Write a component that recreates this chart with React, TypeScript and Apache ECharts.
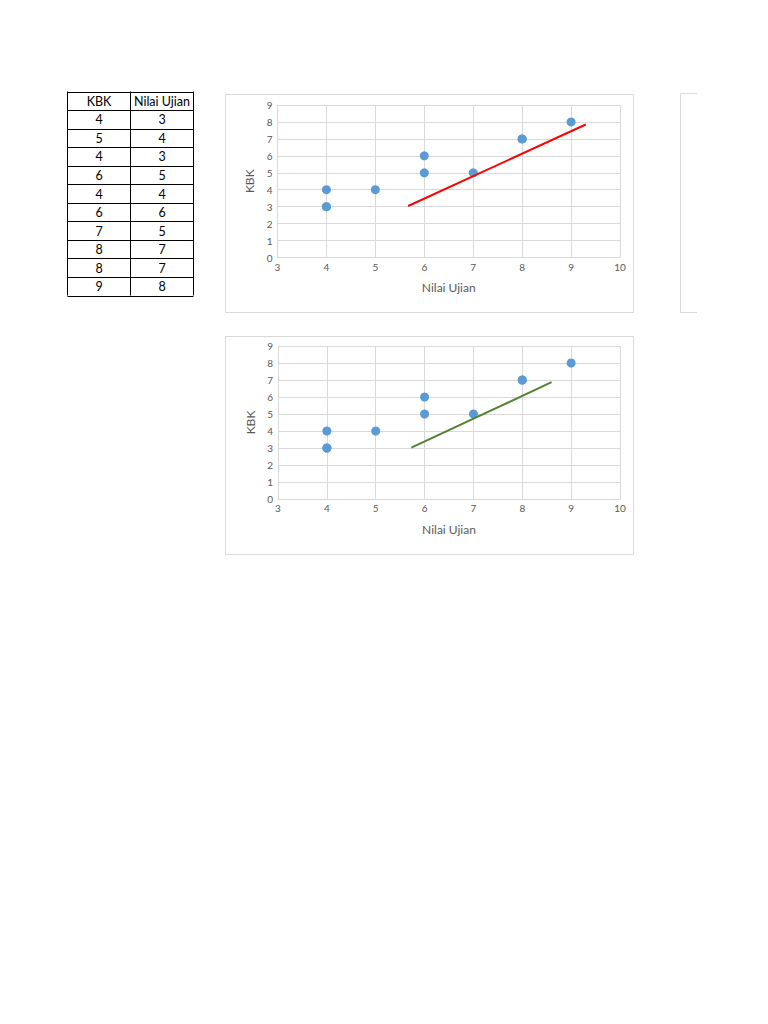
import React, { useEffect, useRef } from "react";
import * as echarts from "echarts";

// data
const tableHeaders = ["KBK", "Nilai Ujian"];
const kbk = [4, 5, 4, 6, 4, 6, 7, 8, 8, 9];
const nilaiUjian = [3, 4, 3, 5, 4, 6, 5, 7, 7, 8];

// hand-drawn trend lines (start, end)
const redLine = [
  [5.67, 3.04],
  [9.3, 7.85],
];
const greenLine = [
  [5.73, 3.02],
  [8.6, 6.87],
];

const xRange = { min: 3, max: 10, interval: 1 };
const yRange = { min: 0, max: 9, interval: 1 };

const FONT = "Lato, 'Open Sans', sans-serif";
const GRID_COLOR = "#D9D9D9";
const LABEL_COLOR = "#595959";
const POINT_COLOR = "#5B9BD5";

function makeAxes(gridIndex: number) {
  const common = {
    gridIndex,
    type: "value" as const,
    axisTick: { show: false },
    axisLine: { show: true, lineStyle: { color: GRID_COLOR, width: 1 } },
    splitLine: { show: true, lineStyle: { color: GRID_COLOR, width: 1 } },
    axisLabel: { color: LABEL_COLOR, fontSize: 10, fontFamily: FONT },
    nameTextStyle: { color: LABEL_COLOR, fontSize: 12, fontFamily: FONT },
    nameLocation: "middle" as const,
  };
  return {
    x: {
      ...common,
      ...xRange,
      name: "Nilai Ujian",
      nameGap: 24,
      axisLabel: { ...common.axisLabel, margin: 4 },
    },
    y: {
      ...common,
      ...yRange,
      name: "KBK",
      nameGap: 22,
      axisLabel: { ...common.axisLabel, margin: 5 },
    },
  };
}

function tableGraphics() {
  const x0 = 67.5;
  const xm = 130.5;
  const x1 = 193.5;
  const y0 = 91.5;
  const rowH = 18.55;
  const rows = [tableHeaders, ...kbk.map((k, i) => [String(k), String(nilaiUjian[i])])];
  const els: any[] = [];
  const yEnd = y0 + rowH * rows.length;
  const line = (a: number, b: number, c: number, d: number) => ({
    type: "line",
    shape: { x1: a, y1: b, x2: c, y2: d },
    style: { stroke: "#000", lineWidth: 1 },
  });
  for (let r = 0; r <= rows.length; r++) {
    const y = Math.round(y0 + rowH * r) + 0.5;
    els.push(line(x0, y, x1, y));
  }
  els.push(line(x0, y0, x0, yEnd));
  els.push(line(xm, y0, xm, yEnd));
  els.push(line(x1, y0, x1, yEnd));
  rows.forEach((row, r) => {
    const cy = y0 + rowH * r + rowH / 2 + 0.5;
    [(x0 + xm) / 2, (xm + x1) / 2].forEach((cx, c) => {
      els.push({
        type: "text",
        x: cx,
        y: cy,
        style: {
          text: row[c],
          fill: "#000",
          font: `12.5px ${FONT}`,
          align: "center",
          verticalAlign: "middle",
        },
      });
    });
  });
  return els;
}

export default function App() {
  const chartRef = useRef<HTMLDivElement>(null);

  useEffect(() => {
    if (!chartRef.current) return;
    const chart = echarts.init(chartRef.current, undefined, { renderer: "svg" });
    const a1 = makeAxes(0);
    const a2 = makeAxes(1);
    const points = kbk.map((k, i) => [k, nilaiUjian[i]]);

    chart.setOption({
      animation: false,
      backgroundColor: "#fff",
      grid: [
        { left: 277.5, top: 105, width: 342.5, height: 152.5 },
        { left: 278, top: 346, width: 342, height: 153 },
      ],
      xAxis: [a1.x, a2.x],
      yAxis: [a1.y, a2.y],
      series: [
        {
          type: "scatter",
          xAxisIndex: 0,
          yAxisIndex: 0,
          data: points,
          symbolSize: 9,
          itemStyle: { color: POINT_COLOR, opacity: 1 },
          z: 3,
        },
        {
          type: "line",
          xAxisIndex: 0,
          yAxisIndex: 0,
          data: redLine,
          showSymbol: false,
          lineStyle: { color: "#FF0000", width: 2 },
          z: 4,
        },
        {
          type: "scatter",
          xAxisIndex: 1,
          yAxisIndex: 1,
          data: points,
          symbolSize: 9,
          itemStyle: { color: POINT_COLOR, opacity: 1 },
          z: 3,
        },
        {
          type: "line",
          xAxisIndex: 1,
          yAxisIndex: 1,
          data: greenLine,
          showSymbol: false,
          lineStyle: { color: "#548235", width: 2 },
          z: 4,
        },
      ],
      graphic: [
        {
          type: "rect",
          shape: { x: 225.5, y: 94.5, width: 408, height: 218 },
          style: { fill: "none", stroke: GRID_COLOR, lineWidth: 1 },
          z: -1,
        },
        {
          type: "rect",
          shape: { x: 225.5, y: 336.5, width: 408, height: 218 },
          style: { fill: "none", stroke: GRID_COLOR, lineWidth: 1 },
          z: -1,
        },
        {
          type: "polyline",
          shape: {
            points: [
              [697, 93.5],
              [680.5, 93.5],
              [680.5, 312.5],
              [697, 312.5],
            ],
          },
          style: { fill: "none", stroke: GRID_COLOR, lineWidth: 1 },
          z: -1,
        },
        ...tableGraphics(),
      ],
    });

    return () => chart.dispose();
  }, []);

  return (
    <div
      ref={chartRef}
      style={{ position: "fixed", left: 0, top: 0, width: 768, height: 1024 }}
    />
  );
}
